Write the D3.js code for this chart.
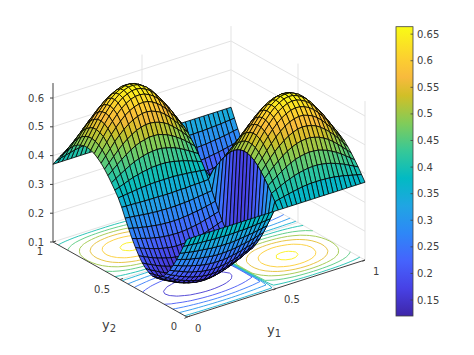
<!DOCTYPE html>
<html>
<head>
<meta charset="utf-8">
<script src="https://cdn.jsdelivr.net/npm/d3@7"></script>
<style>
  body { margin: 0; background: #fff; }
  text { font-family: "DejaVu Sans", sans-serif; font-size: 10px; fill: #404040; }
</style>
</head>
<body>
<div id="chart"></div>
<script>
const zTicks = [0.1, 0.2, 0.3, 0.4, 0.5, 0.6]
const y1Ticks = [0, 0.5, 1]
const y2Ticks = [0, 0.5, 1]
const barTicks = [0.15, 0.2, 0.25, 0.3, 0.35, 0.4, 0.45, 0.5, 0.55, 0.6, 0.65]
const contourLevels = [0.15, 0.2, 0.25, 0.3, 0.35, 0.4, 0.45, 0.5, 0.55, 0.6, 0.65]
const parulaPos = [0, 6, 12, 18, 24, 30, 36, 42, 48, 52, 56, 63]
const parulaHex = ["#3e26a8", "#4741e5", "#4563fd", "#2e87f7", "#20a5e3", "#02bac3", "#37c897", "#81cc59", "#d1bf27", "#f8ba3d", "#fccf30", "#f9fb15"]

// surface heights, one row per y1, one column per y2
const surfaceZ = [
  [.370,.339,.308,.279,.253,.229,.210,.194,.183,.176,.175,.179,.188,.201,.219,.241,.266,.294,.323,.354,.380,.400,.419,.437,.453,.467,.478,.487,.492,.495,.494,.490,.483,.473,.460,.445,.428,.410,.390,.370],
  [.370,.337,.305,.275,.247,.222,.201,.185,.173,.166,.165,.169,.178,.192,.211,.234,.260,.290,.321,.353,.382,.406,.429,.451,.470,.487,.501,.511,.518,.521,.520,.515,.507,.494,.479,.461,.440,.418,.394,.370],
  [.370,.336,.302,.270,.241,.216,.194,.177,.164,.157,.156,.160,.170,.185,.204,.228,.256,.286,.319,.353,.384,.412,.439,.465,.487,.507,.523,.536,.543,.547,.546,.540,.530,.516,.498,.476,.452,.426,.398,.370],
  [.370,.334,.299,.266,.236,.209,.186,.168,.156,.149,.147,.151,.161,.177,.197,.222,.251,.283,.317,.352,.386,.418,.449,.478,.504,.527,.545,.559,.568,.572,.571,.564,.553,.536,.516,.491,.464,.434,.402,.370],
  [.370,.333,.297,.263,.231,.203,.180,.161,.148,.141,.139,.144,.154,.170,.191,.217,.246,.279,.315,.351,.388,.424,.458,.490,.519,.544,.564,.579,.590,.594,.592,.585,.572,.554,.532,.505,.474,.441,.406,.370],
  [.370,.332,.295,.259,.227,.198,.174,.155,.141,.134,.132,.137,.147,.164,.186,.212,.243,.277,.313,.351,.390,.428,.466,.501,.532,.559,.581,.598,.609,.614,.612,.604,.591,.571,.546,.517,.483,.447,.409,.370],
  [.370,.331,.293,.257,.223,.194,.169,.149,.136,.128,.126,.131,.142,.159,.181,.208,.239,.274,.312,.350,.391,.432,.472,.510,.543,.572,.596,.614,.626,.631,.629,.621,.606,.585,.558,.527,.491,.453,.412,.370],
  [.370,.330,.291,.254,.220,.190,.165,.145,.131,.123,.121,.126,.137,.154,.177,.205,.237,.272,.310,.350,.392,.435,.477,.517,.552,.582,.607,.626,.639,.644,.642,.633,.618,.596,.568,.535,.497,.457,.414,.370],
  [.370,.330,.290,.252,.218,.188,.162,.141,.127,.119,.117,.122,.133,.151,.174,.202,.235,.271,.310,.350,.393,.438,.481,.521,.558,.589,.615,.635,.647,.653,.651,.642,.626,.603,.574,.540,.502,.460,.415,.370],
  [.370,.329,.289,.251,.217,.186,.160,.139,.125,.117,.115,.120,.132,.149,.172,.201,.234,.270,.309,.349,.393,.439,.483,.525,.562,.594,.620,.640,.653,.659,.657,.648,.631,.608,.578,.544,.504,.462,.416,.370],
  [.370,.329,.289,.251,.217,.186,.160,.139,.125,.117,.115,.120,.132,.149,.172,.201,.234,.270,.309,.349,.393,.439,.484,.525,.562,.595,.621,.641,.654,.660,.658,.649,.632,.609,.579,.544,.505,.462,.416,.370],
  [.370,.329,.289,.252,.217,.187,.161,.140,.126,.118,.116,.121,.133,.150,.173,.202,.234,.270,.309,.349,.393,.439,.483,.524,.560,.592,.619,.638,.651,.657,.655,.646,.629,.606,.577,.542,.503,.461,.416,.370],
  [.370,.330,.290,.253,.219,.189,.163,.143,.129,.121,.119,.124,.135,.153,.175,.204,.236,.272,.310,.350,.393,.437,.479,.519,.555,.586,.612,.631,.643,.649,.647,.638,.622,.600,.571,.538,.500,.458,.415,.370],
  [.370,.330,.292,.255,.222,.192,.167,.147,.133,.125,.123,.128,.139,.156,.179,.206,.238,.273,.311,.350,.392,.434,.475,.513,.548,.578,.602,.621,.633,.638,.636,.628,.612,.591,.563,.531,.495,.455,.413,.370],
  [.370,.331,.294,.258,.225,.196,.172,.152,.138,.131,.129,.134,.145,.161,.183,.210,.241,.276,.312,.350,.390,.430,.469,.505,.538,.566,.589,.607,.618,.623,.621,.613,.599,.578,.552,.522,.488,.450,.410,.370],
  [.370,.332,.296,.261,.229,.201,.177,.158,.144,.137,.135,.140,.150,.166,.188,.214,.244,.278,.314,.351,.389,.426,.462,.495,.525,.551,.573,.589,.599,.604,.602,.595,.582,.563,.539,.511,.479,.444,.407,.370],
  [.370,.334,.298,.264,.234,.206,.183,.165,.152,.145,.143,.148,.158,.173,.194,.219,.249,.281,.316,.352,.387,.421,.453,.484,.511,.535,.554,.569,.579,.583,.582,.575,.563,.545,.524,.498,.469,.438,.404,.370],
  [.370,.335,.301,.268,.238,.212,.190,.172,.160,.153,.151,.155,.165,.180,.200,.225,.253,.284,.318,.352,.385,.415,.444,.472,.496,.517,.535,.548,.556,.560,.559,.553,.542,.526,.507,.484,.458,.430,.400,.370],
  [.370,.337,.304,.273,.244,.219,.198,.181,.169,.162,.161,.165,.175,.189,.208,.231,.258,.288,.320,.353,.383,.409,.434,.458,.479,.497,.512,.523,.531,.534,.533,.528,.518,.505,.488,.469,.446,.422,.396,.370],
  [.370,.338,.307,.277,.250,.226,.205,.189,.178,.171,.170,.174,.183,.197,.215,.237,.263,.292,.322,.354,.381,.403,.424,.444,.461,.477,.490,.499,.505,.508,.507,.503,.495,.484,.469,.453,.434,.414,.392,.370],
  [.370,.392,.414,.434,.453,.469,.484,.495,.503,.507,.508,.505,.499,.490,.477,.461,.444,.424,.403,.381,.354,.322,.292,.263,.237,.215,.197,.183,.174,.170,.171,.178,.189,.205,.226,.250,.277,.307,.338,.370],
  [.370,.396,.422,.446,.469,.488,.505,.518,.528,.533,.534,.531,.523,.512,.497,.479,.458,.434,.409,.383,.353,.320,.288,.258,.231,.208,.189,.175,.165,.161,.162,.169,.181,.198,.219,.244,.273,.304,.337,.370],
  [.370,.400,.430,.458,.484,.507,.526,.542,.553,.559,.560,.556,.548,.535,.517,.496,.472,.444,.415,.385,.352,.318,.284,.253,.225,.200,.180,.165,.155,.151,.153,.160,.172,.190,.212,.238,.268,.301,.335,.370],
  [.370,.404,.438,.469,.498,.524,.545,.563,.575,.582,.583,.579,.569,.554,.535,.511,.484,.453,.421,.387,.352,.316,.281,.249,.219,.194,.173,.158,.148,.143,.145,.152,.165,.183,.206,.234,.264,.298,.334,.370],
  [.370,.407,.444,.479,.511,.539,.563,.582,.595,.602,.604,.599,.589,.573,.551,.525,.495,.462,.426,.389,.351,.314,.278,.244,.214,.188,.166,.150,.140,.135,.137,.144,.158,.177,.201,.229,.261,.296,.332,.370],
  [.370,.410,.450,.488,.522,.552,.578,.599,.613,.621,.623,.618,.607,.589,.566,.538,.505,.469,.430,.390,.350,.312,.276,.241,.210,.183,.161,.145,.134,.129,.131,.138,.152,.172,.196,.225,.258,.294,.331,.370],
  [.370,.413,.455,.495,.531,.563,.591,.612,.628,.636,.638,.633,.621,.602,.578,.548,.513,.475,.434,.392,.350,.311,.273,.238,.206,.179,.156,.139,.128,.123,.125,.133,.147,.167,.192,.222,.255,.292,.330,.370],
  [.370,.415,.458,.500,.538,.571,.600,.622,.638,.647,.649,.643,.631,.612,.586,.555,.519,.479,.437,.393,.350,.310,.272,.236,.204,.175,.153,.135,.124,.119,.121,.129,.143,.163,.189,.219,.253,.290,.330,.370],
  [.370,.416,.461,.503,.542,.577,.606,.629,.646,.655,.657,.651,.638,.619,.592,.560,.524,.483,.439,.393,.349,.309,.270,.234,.202,.173,.150,.133,.121,.116,.118,.126,.140,.161,.187,.217,.252,.289,.329,.370],
  [.370,.416,.462,.505,.544,.579,.609,.632,.649,.658,.660,.654,.641,.621,.595,.562,.525,.484,.439,.393,.349,.309,.270,.234,.201,.172,.149,.132,.120,.115,.117,.125,.139,.160,.186,.217,.251,.289,.329,.370],
  [.370,.416,.462,.504,.544,.578,.608,.631,.648,.657,.659,.653,.640,.620,.594,.562,.525,.483,.439,.393,.349,.309,.270,.234,.201,.172,.149,.132,.120,.115,.117,.125,.139,.160,.186,.217,.251,.289,.329,.370],
  [.370,.415,.460,.502,.540,.574,.603,.626,.642,.651,.653,.647,.635,.615,.589,.558,.521,.481,.438,.393,.350,.310,.271,.235,.202,.174,.151,.133,.122,.117,.119,.127,.141,.162,.188,.218,.252,.290,.330,.370],
  [.370,.414,.457,.497,.535,.568,.596,.618,.633,.642,.644,.639,.626,.607,.582,.552,.517,.477,.435,.392,.350,.310,.272,.237,.205,.177,.154,.137,.126,.121,.123,.131,.145,.165,.190,.220,.254,.291,.330,.370],
  [.370,.412,.453,.491,.527,.558,.585,.606,.621,.629,.631,.626,.614,.596,.572,.543,.510,.472,.432,.391,.350,.312,.274,.239,.208,.181,.159,.142,.131,.126,.128,.136,.149,.169,.194,.223,.257,.293,.331,.370],
  [.370,.409,.447,.483,.517,.546,.571,.591,.604,.612,.614,.609,.598,.581,.559,.532,.501,.466,.428,.390,.351,.313,.277,.243,.212,.186,.164,.147,.137,.132,.134,.141,.155,.174,.198,.227,.259,.295,.332,.370],
  [.370,.406,.441,.474,.505,.532,.554,.572,.585,.592,.594,.590,.579,.564,.544,.519,.490,.458,.424,.388,.351,.315,.279,.246,.217,.191,.170,.154,.144,.139,.141,.148,.161,.180,.203,.231,.263,.297,.333,.370],
  [.370,.402,.434,.464,.491,.516,.536,.553,.564,.571,.572,.568,.559,.545,.527,.504,.478,.449,.418,.386,.352,.317,.283,.251,.222,.197,.177,.161,.151,.147,.149,.156,.168,.186,.209,.236,.266,.299,.334,.370],
  [.370,.398,.426,.452,.476,.498,.516,.530,.540,.546,.547,.543,.536,.523,.507,.487,.465,.439,.412,.384,.353,.319,.286,.256,.228,.204,.185,.170,.160,.156,.157,.164,.177,.194,.216,.241,.270,.302,.336,.370],
  [.370,.394,.418,.440,.461,.479,.494,.507,.515,.520,.521,.518,.511,.501,.487,.470,.451,.429,.406,.382,.353,.321,.290,.260,.234,.211,.192,.178,.169,.165,.166,.173,.185,.201,.222,.247,.275,.305,.337,.370],
  [.370,.390,.410,.428,.445,.460,.473,.483,.490,.494,.495,.492,.487,.478,.467,.453,.437,.419,.400,.380,.354,.323,.294,.266,.241,.219,.201,.188,.179,.175,.176,.183,.194,.210,.229,.253,.279,.308,.339,.370]
]

const svg = d3.select("#chart").append("svg")
  .attr("width", 474)
  .attr("height", 355)

// oblique box: front corner plus one screen vector per data axis
const origin = [187, 317]
const y1X = d3.scaleLinear().domain([0, 1]).range([0, 178])
const y1Y = d3.scaleLinear().domain([0, 1]).range([0, -57])
const y2X = d3.scaleLinear().domain([0, 1]).range([0, -134])
const y2Y = d3.scaleLinear().domain([0, 1]).range([0, -75])
const zH = d3.scaleLinear().domain([0.1, 0.664]).range([0, 162.4])

const px = (a, b) => origin[0] + y1X(a) + y2X(b)
const py = (a, b, c) => origin[1] + y1Y(a) + y2Y(b) - zH(c)
const pt = (a, b, c) => [px(a, b), py(a, b, c)]

const zMin = 0.115, zMax = 0.664, zTop = 0.652
const color = d3.scaleLinear()
  .domain(parulaPos.map(d => zMin + (zMax - zMin) * d / 63))
  .range(parulaHex)
  .clamp(true)

const line = d3.line()
const gridColor = "#e3e3e3"

// walls and floor grid
const grid = svg.append("g").attr("fill", "none").attr("stroke", gridColor).attr("stroke-width", 1)
zTicks.slice(1).forEach(t => {
  grid.append("path").attr("d", line([pt(0, 1, t), pt(1, 1, t), pt(1, 0, t)]))
})
grid.append("path").attr("d", line([pt(0.5, 1, 0.1), pt(0.5, 1, zTop)]))
grid.append("path").attr("d", line([pt(1, 0.5, 0.1), pt(1, 0.5, zTop)]))
grid.append("path").attr("d", line([pt(1, 1, 0.1), pt(1, 1, zTop)]))
grid.append("path").attr("d", line([pt(1, 0, 0.1), pt(1, 0, zTop)]))
grid.append("path").attr("d", line([pt(0, 1, 0.1), pt(1, 1, 0.1), pt(1, 0, 0.1)]))
grid.append("path").attr("d", line([pt(0.5, 0, 0.1), pt(0.5, 1, 0.1)]))
grid.append("path").attr("d", line([pt(0, 0.5, 0.1), pt(1, 0.5, 0.1)]))

// floor contours, cut open where d3 closes the ring along the border
const n = surfaceZ.length
const flat = []
for (let j = 0; j < n; j++) for (let i = 0; i < n; i++) flat.push(surfaceZ[i][j])
const contours = d3.contours().size([n, n]).thresholds(contourLevels)(flat)
const inside = p => p[0] >= 0.5 && p[0] <= n - 0.5 && p[1] >= 0.5 && p[1] <= n - 0.5

function ringPath(ring) {
  let d = "", pen = false
  ring.forEach(p => {
    if (!inside(p)) { pen = false; return }
    const q = pt((p[0] - 0.5) / (n - 1), (p[1] - 0.5) / (n - 1), 0.1)
    d += (pen ? "L" : "M") + q[0].toFixed(2) + "," + q[1].toFixed(2)
    pen = true
  })
  return d
}

svg.append("g").attr("fill", "none").attr("stroke-width", 0.9)
  .selectAll("path")
  .data(contours)
  .enter()
  .append("path")
  .attr("stroke", d => color(d.value))
  .attr("d", d => d.coordinates.map(poly => poly.map(ringPath).join("")).join(""))

// axes
const axisColor = "#404040"
const axes = svg.append("g").attr("fill", "none").attr("stroke", axisColor).attr("stroke-width", 1)
axes.append("path").attr("d", line([pt(0, 1, zTop), pt(0, 1, 0.1)]))
axes.append("path").attr("d", line([pt(0, 1, 0.1), pt(0, 0, 0.1)]))
axes.append("path").attr("d", line([pt(0, 0, 0.1), pt(1, 0, 0.1)]))

axes.selectAll(".ztick").data(zTicks).enter().append("path")
  .attr("d", d => { const p = pt(0, 1, d); return line([p, [p[0] - 3, p[1]]]) })
axes.selectAll(".y1tick").data(y1Ticks).enter().append("path")
  .attr("d", d => { const p = pt(d, 0, 0.1); return line([p, [p[0] - 2.5, p[1] + 1.4]]) })
axes.selectAll(".y2tick").data(y2Ticks).enter().append("path")
  .attr("d", d => { const p = pt(0, d, 0.1); return line([p, [p[0] + 3, p[1] - 1]]) })

svg.selectAll(".zlabel").data(zTicks).enter().append("text")
  .attr("x", d => px(0, 1) - 9)
  .attr("y", d => py(0, 1, d))
  .attr("dy", ".35em")
  .attr("text-anchor", "end")
  .text(d => d)
svg.selectAll(".y1label").data(y1Ticks).enter().append("text")
  .attr("x", d => px(d, 0) + 8)
  .attr("y", d => py(d, 0, 0.1) + 11)
  .attr("dy", ".35em")
  .text(d => d)
svg.selectAll(".y2label").data(y2Ticks).enter().append("text")
  .attr("x", d => px(0, d) - 10)
  .attr("y", d => py(0, d, 0.1) + 9.5)
  .attr("dy", ".35em")
  .attr("text-anchor", "end")
  .text(d => d)

const y1Name = svg.append("text").attr("x", 267).attr("y", 334).style("font-size", "13px")
y1Name.append("tspan").text("y")
y1Name.append("tspan").attr("dy", 3).style("font-size", "10px").text("1")
const y2Name = svg.append("text").attr("x", 102).attr("y", 329).style("font-size", "13px")
y2Name.append("tspan").text("y")
y2Name.append("tspan").attr("dy", 3).style("font-size", "10px").text("2")

// surface, painted from the far corner to the near one; each face takes
// the colour of its lowest index corner
const cells = []
for (let i = n - 2; i >= 0; i--) for (let j = n - 2; j >= 0; j--) cells.push([i, j])
const u = d3.scaleLinear().domain([0, n - 1]).range([0, 1])
const corner = (i, j) => pt(u(i), u(j), surfaceZ[i][j])

svg.append("g").attr("stroke", "#000").attr("stroke-width", 0.8).attr("stroke-linejoin", "round")
  .selectAll("path")
  .data(cells)
  .enter()
  .append("path")
  .attr("fill", d => color(surfaceZ[d[0]][d[1]]))
  .attr("d", d => line([corner(d[0], d[1]), corner(d[0] + 1, d[1]), corner(d[0] + 1, d[1] + 1), corner(d[0], d[1] + 1)]) + "Z")

// colorbar
const barY = d3.scaleLinear().domain([0.12, 0.664]).range([316, 26.7])
const barX = 396, barW = 17
const defs = svg.append("defs")
const grad = defs.append("linearGradient").attr("id", "parula").attr("x1", 0).attr("x2", 0).attr("y1", 1).attr("y2", 0)
parulaPos.forEach((d, k) => {
  grad.append("stop").attr("offset", d / 63).attr("stop-color", parulaHex[k])
})
svg.append("rect")
  .attr("x", barX).attr("y", barY(0.664))
  .attr("width", barW).attr("height", barY(0.12) - barY(0.664))
  .attr("fill", "url(#parula)")
  .attr("stroke", axisColor).attr("stroke-width", 0.8)
svg.selectAll(".bartick").data(barTicks).enter().append("path")
  .attr("d", d => line([[barX + barW - 2.5, barY(d)], [barX + barW, barY(d)]]))
  .attr("stroke", axisColor)
  .attr("stroke-width", 0.8)
svg.selectAll(".barlabel").data(barTicks).enter().append("text")
  .attr("x", barX + barW + 4)
  .attr("y", d => barY(d))
  .attr("dy", ".35em")
  .text(d => d)
</script>
</body>
</html>
